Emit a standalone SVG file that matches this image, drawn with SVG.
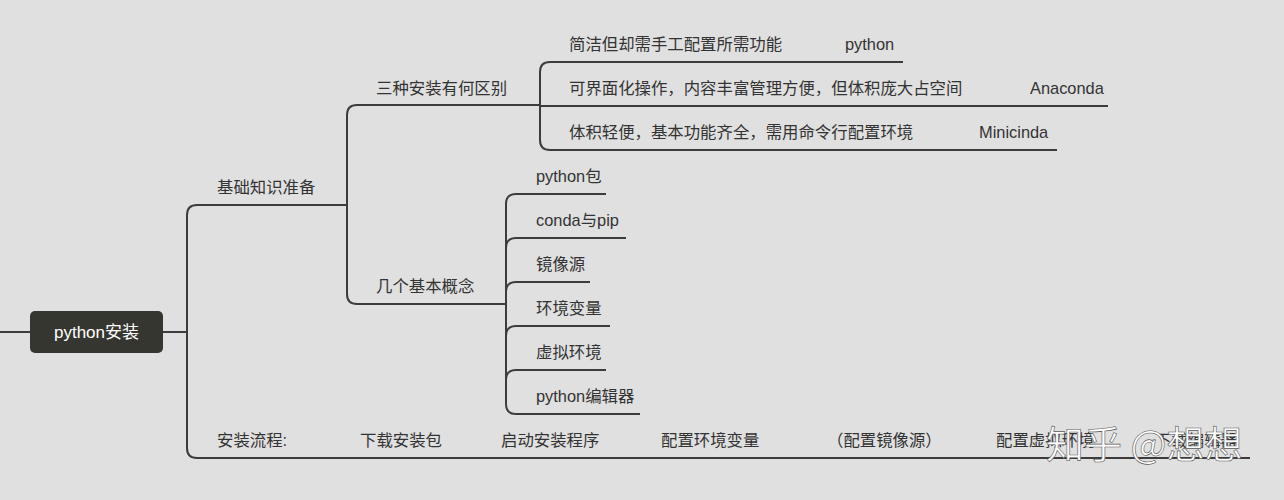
<svg xmlns="http://www.w3.org/2000/svg" width="1284" height="500" viewBox="0 0 1284 500">
<style>
.l{fill:none;stroke:#3c3c3c;stroke-width:2}
.t{font-family:"Liberation Sans","Noto Sans CJK SC",sans-serif;font-size:16.4px;fill:#333}
.r{font-family:"Liberation Sans","Noto Sans CJK SC",sans-serif;font-size:17px;fill:#fff}
.w{font-family:"Noto Sans CJK SC",sans-serif;font-size:38px;fill:#fff;stroke:#555;stroke-width:0.6}
</style>
<rect width="1284" height="500" fill="#e0e0e0"/>
<g id="connectors">
<path class="l" d="M0 332H30M163 332H187"/>
<path class="l" d="M347 205H197Q187 205 187 215V448Q187 458 197 458H1250"/>
<path class="l" d="M540 105H357Q347 105 347 115V294Q347 304 357 304H506"/>
<path class="l" d="M903 62H550Q540 62 540 72V140Q540 150 550 150H1057M540 106H1108"/>
<path class="l" d="M606 194H516Q506 194 506 204V404Q506 414 516 414H640M506 248Q506 238 516 238H626M506 292Q506 282 516 282H590M506 336Q506 326 516 326H610M506 380Q506 370 516 370H606"/>
</g>
<g id="root"><rect x="30" y="311" width="133" height="42" rx="5" fill="#363631"/><text class="r" x="96.5" y="338" text-anchor="middle">python安装</text></g>
<g id="n1"><text class="t" x="217" y="193">基础知识准备</text></g>
<g id="n2"><text class="t" x="376" y="94">三种安装有何区别</text></g>
<g id="n3"><text class="t" x="376" y="292">几个基本概念</text></g>
<g id="n4"><text class="t" x="569" y="50">简洁但却需手工配置所需功能</text><text class="t" x="845" y="50">python</text></g>
<g id="n5"><text class="t" x="569" y="94">可界面化操作，内容丰富管理方便，但体积庞大占空间</text><text class="t" x="1030" y="94">Anaconda</text></g>
<g id="n6"><text class="t" x="569" y="138">体积轻便，基本功能齐全，需用命令行配置环境</text><text class="t" x="979" y="138">Minicinda</text></g>
<g id="c1"><text class="t" x="536" y="182">python包</text></g>
<g id="c2"><text class="t" x="536" y="226">conda与pip</text></g>
<g id="c3"><text class="t" x="536" y="270">镜像源</text></g>
<g id="c4"><text class="t" x="536" y="314">环境变量</text></g>
<g id="c5"><text class="t" x="536" y="358">虚拟环境</text></g>
<g id="c6"><text class="t" x="536" y="402">python编辑器</text></g>
<g id="flow"><text class="t" x="217" y="446">安装流程:</text><text class="t" x="360" y="446">下载安装包</text><text class="t" x="501" y="446">启动安装程序</text><text class="t" x="661" y="446">配置环境变量</text><text class="t" x="827" y="446">（配置镜像源）</text><text class="t" x="996" y="446">配置虚拟环境</text><text class="t" x="1155" y="446">下载编辑器</text></g>
<text class="w" x="1046" y="458">知乎 @想想</text>
</svg>
